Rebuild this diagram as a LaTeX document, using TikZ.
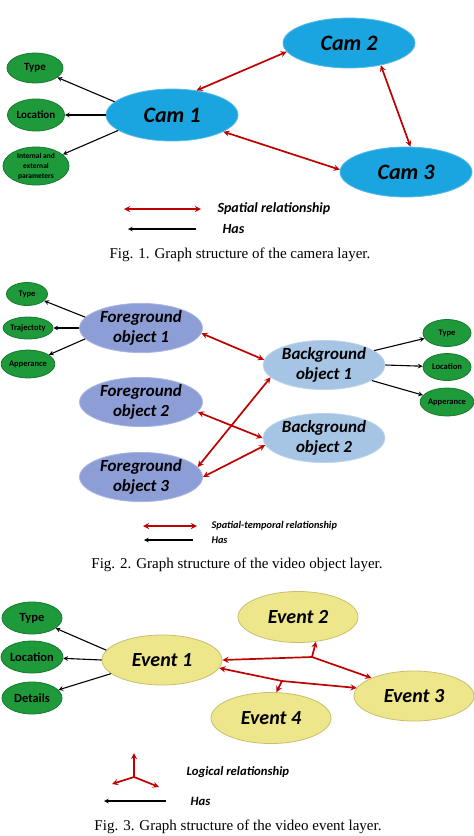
\documentclass[tikz,border=0pt]{standalone}
\usepackage{fontspec}
\setmainfont{Liberation Serif}
\newfontfamily\calib{Carlito}
\usetikzlibrary{shapes.geometric}
\definecolor{camfill}{RGB}{26,165,224}
\definecolor{camline}{RGB}{90,185,232}
\definecolor{attrfill}{RGB}{30,154,59}
\definecolor{attrline}{RGB}{22,120,45}
\definecolor{fgfill}{RGB}{141,158,214}
\definecolor{fgline}{RGB}{170,182,228}
\definecolor{bgfill}{RGB}{166,197,228}
\definecolor{bgline}{RGB}{190,212,236}
\definecolor{evfill}{RGB}{237,230,138}
\definecolor{evline}{RGB}{200,190,110}
\definecolor{relred}{RGB}{192,0,0}
\begin{document}
\begin{tikzpicture}[>=stealth, x=1pt, y=-1pt,
    oval/.style={ellipse, draw, line width=0.8pt, inner sep=0pt, align=center},
    cam/.style={oval, fill=camfill, draw=camline, minimum width=132pt, minimum height=52pt,
        font=\calib\bfseries\itshape\fontsize{22}{24}\selectfont},
    attr/.style={oval, fill=attrfill, draw=attrline, font=\calib\bfseries\fontsize{11}{12}\selectfont},
    small/.style={font=\calib\bfseries\fontsize{8.5}{9}\selectfont},
    fg/.style={oval, fill=fgfill, draw=fgline, minimum width=123pt, minimum height=49pt,
        font=\calib\bfseries\itshape\fontsize{17}{20}\selectfont},
    bg/.style={fg, fill=bgfill, draw=bgline, minimum width=122pt},
    ev/.style={oval, fill=evfill, draw=evline, minimum width=120pt, minimum height=50pt,
        font=\calib\bfseries\itshape\fontsize{20}{22}\selectfont},
    has/.style={->, line width=1.1pt},
    rel/.style={<->, relred, line width=1.7pt},
    legtext/.style={anchor=west, font=\calib\bfseries\itshape\fontsize{14}{15}\selectfont},
    caption/.style={font=\fontsize{15}{17}\selectfont}]
\useasboundingbox (0,0) rectangle (474,836);

% Fig. 1
\node[cam] (cam1) at (172,115) {Cam 1};
\node[cam, minimum height=50pt] (cam2) at (349,43) {Cam 2};
\node[cam, minimum height=50pt] (cam3) at (406,172) {Cam 3};
\node[attr, minimum width=56pt, minimum height=30pt] (type1) at (35,68) {Type};
\node[attr, minimum width=57pt, minimum height=32pt] (loc1) at (36,115) {Location};
\node[attr, minimum width=66pt, minimum height=38pt, font=\calib\bfseries\fontsize{7.5}{10}\selectfont]
    (par1) at (36,166) {Internal and\\external\\parameters};
\draw[has] (cam1.167) -- (type1);
\draw[has] (cam1.west) -- (loc1);
\draw[has] (cam1.196) -- (par1);
\draw[rel] (cam1.45) -- (cam2.188);
\draw[rel] (cam2.-35) -- (cam3.80);
\draw[rel] (cam1.-18) -- (cam3.178);

\coordinate (l1a) at (124,209);
\coordinate (l1b) at (201,209);
\coordinate (l1c) at (196,229);
\coordinate (l1d) at (128,229);
\draw[rel] (l1a) -- (l1b);
\draw[has] (l1c) -- (l1d);
\node[legtext] (l1t) at (214,209) {Spatial relationship};
\node[legtext] (l1h) at (219,229) {Has};
\node[caption] (cap1) at (240,255) {Fig. 1. Graph structure of the camera layer.};

% Fig. 2
\node[fg] (fo1) at (141,328) {Foreground\\object 1};
\node[fg] (fo2) at (141,402) {Foreground\\object 2};
\node[fg] (fo3) at (141,477) {Foreground\\object 3};
\node[bg] (bo1) at (324,365) {Background\\object 1};
\node[bg] (bo2) at (324,438) {Background\\object 2};
\node[attr, small, minimum width=41pt, minimum height=23pt] (type2) at (27,294) {Type};
\node[attr, small, minimum width=41pt, minimum height=22pt] (traj2) at (28,328) {Trajectoty};
\node[attr, small, minimum width=48pt, minimum height=28pt] (app2) at (28,364) {Apperance};
\node[attr, small, minimum width=48pt, minimum height=27pt] (type3) at (447,333) {Type};
\node[attr, small, minimum width=48pt, minimum height=27pt] (loc3) at (447,367) {Location};
\node[attr, small, minimum width=48pt, minimum height=28pt] (app3) at (447,402) {Apperance};
\draw[has] (fo1.169) -- (type2);
\draw[has] (fo1.west) -- (traj2);
\draw[has] (fo1.191) -- (app2);
\draw[has] (bo1.16) -- (type3);
\draw[has] (bo1.east) -- (loc3);
\draw[has] (bo1.-18) -- (app3);
\draw[rel] (fo1.-5) -- (bo1.175);
\draw[rel] (fo2.-10) -- (bo2.west);
\draw[rel] (fo3.10) -- (bo1.-167);
\draw[rel] (fo3.east) -- (bo2.187);

\coordinate (l2a) at (143,526);
\coordinate (l2b) at (197,526);
\coordinate (l2c) at (193,540);
\coordinate (l2d) at (144,540);
\draw[rel] (l2a) -- (l2b);
\draw[has] (l2c) -- (l2d);
\node[legtext, font=\calib\bfseries\itshape\fontsize{10.3}{11}\selectfont] (l2t) at (208,526) {Spatial-temporal relationship};
\node[legtext, font=\calib\bfseries\itshape\fontsize{10.3}{11}\selectfont] (l2h) at (208,540) {Has};
\node[caption] (cap2) at (237,565) {Fig. 2. Graph structure of the video object layer.};

% Fig. 3
\node[ev] (e1) at (162,660) {Event 1};
\node[ev, minimum height=51pt] (e2) at (298,617) {Event 2};
\node[ev] (e3) at (414,696) {Event 3};
\node[ev, minimum height=51pt] (e4) at (271,718) {Event 4};
\node[attr, minimum width=60pt, minimum height=32pt, font=\calib\bfseries\fontsize{12.5}{13}\selectfont] (type4) at (32,618) {Type};
\node[attr, minimum width=60pt, minimum height=32pt, font=\calib\bfseries\fontsize{12.5}{13}\selectfont] (loc4) at (32,657) {Location};
\node[attr, minimum width=60pt, minimum height=32pt, font=\calib\bfseries\fontsize{12.5}{13}\selectfont] (det4) at (32,698) {Details};
\draw[has] (e1.170) -- (type4);
\draw[has] (e1.west) -- (loc4);
\draw[has] (e1.195) -- (det4);

\coordinate (j1) at (312,657);
\coordinate (j2) at (282,681);
\foreach \t in {e1.east, e2.-54, e3.157}
    \draw[->, relred, line width=1.7pt] (j1) -- (\t);
\foreach \t in {e1.-8, e3.172, e4.78}
    \draw[->, relred, line width=1.7pt] (j2) -- (\t);

\coordinate (tri) at (134,777);
\coordinate (triu) at (134,753);
\coordinate (tril) at (112,784);
\coordinate (trir) at (159,787);
\foreach \t in {triu, tril, trir}
    \draw[->, relred, line width=1.7pt] (tri) -- (\t);
\coordinate (l3c) at (166,801);
\coordinate (l3d) at (104,801);
\draw[has] (l3c) -- (l3d);
\node[legtext, font=\calib\bfseries\itshape\fontsize{12.7}{13}\selectfont] (l3t) at (183,772) {Logical relationship};
\node[legtext, font=\calib\bfseries\itshape\fontsize{12.7}{13}\selectfont] (l3h) at (187,801) {Has};
\node[caption] (cap3) at (238,827) {Fig. 3. Graph structure of the video event layer.};

\end{tikzpicture}
\end{document}
